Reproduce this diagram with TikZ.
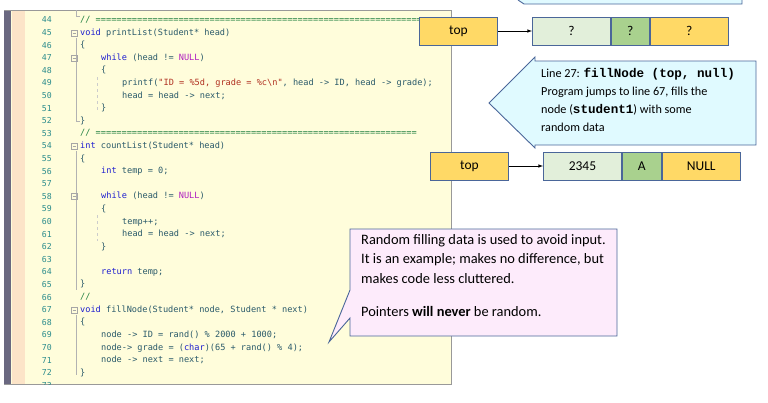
\documentclass[tikz,border=0pt]{standalone}
\usepackage{fontspec}
\setmainfont{Carlito}
\newfontfamily\codef{DejaVu Sans Mono}
\newfontfamily\courf{Liberation Mono}
\definecolor{panel}{HTML}{FFFDDB}
\definecolor{strip}{HTML}{FCE4C8}
\definecolor{darkstrip}{HTML}{6A6880}
\definecolor{lnum}{HTML}{2B8C8C}
\definecolor{kw}{HTML}{1F1FD0}
\definecolor{idc}{HTML}{2A5A6A}
\definecolor{nul}{HTML}{B020C0}
\definecolor{strc}{HTML}{B03020}
\definecolor{cmt}{HTML}{208040}
\definecolor{bord}{HTML}{4A6699}
\definecolor{cellA}{HTML}{E2EFDA}
\definecolor{cellB}{HTML}{A9D18E}
\definecolor{cellC}{HTML}{FFD966}
\definecolor{cyanb}{HTML}{E0FAFF}
\definecolor{pinkb}{HTML}{FDEBFB}
\tikzset{
  ln/.style={anchor=east,font=\codef\fontsize{8.2}{9}\selectfont,text=lnum,inner sep=0pt},
  cl/.style={anchor=west,font=\codef\fontsize{8.6}{9}\selectfont,text=idc,inner sep=0pt},
  cell/.style={draw=bord,line width=0.9pt,minimum height=28pt,inner sep=0pt,font=\fontsize{13.5}{15}\selectfont,anchor=west},
  ptr/.style={-latex,line width=0.6pt},
  callout/.style={draw=bord,line width=0.9pt},
  ctext/.style={anchor=north west,align=left,inner sep=0pt,font=\fontsize{14.4}{19.5}\selectfont},
  fold/.style={gray!70,line width=0.4pt},
}
\newcommand\kwd[1]{\textcolor{kw}{#1}}
\newcommand\nul[1]{\textcolor{nul}{#1}}
\begin{document}
\begin{tikzpicture}[x=1pt,y=-1pt]
\useasboundingbox (0,0) rectangle (768,402);
% code panel
\fill[panel] (4,10) rectangle (451,384);
\fill[strip] (12,10) rectangle (25,384);
\fill[darkstrip] (4,10) rectangle (11,384);
\draw[gray!80,line width=1pt] (4,10) -- (451,10) -- (451,384) -- (4,384);
\begin{scope}
\clip (4,10) rectangle (451,384);
\foreach \n [count=\i from 0] in {44,...,73}{
  \node[ln] (n\n) at (52,{20+12.6*\i}) {\n};
}
% guide lines
\draw[gray!60,line width=0.5pt] (76,10) -- (76,16) -- (80,16);
\draw[gray!60,line width=0.5pt] (76,38) -- (76,121) -- (80,121);
\draw[gray!40,dashed,line width=0.4pt] (97,77) -- (97,113);
\draw[gray!60,line width=0.5pt] (76,151) -- (76,290);
\draw[gray!40,dashed,line width=0.4pt] (97,215) -- (97,241);
\draw[gray!60,line width=0.5pt] (76,315) -- (76,375);
\foreach \y in {33,58,146,196,310}{\draw[fold] (71,\y-3) rectangle (77,\y+3); \draw[fold] (72.5,\y) -- (75.5,\y);}
% code
\node[cl,text=cmt] (c44) at (80,20) {// ======================================================================};
\node[cl] (c45) at (80,33) {\kwd{void} printList(Student* head)};
\node[cl] (c46) at (80,45) {\{};
\node[cl] (c47) at (101,58) {\kwd{while} (head != \nul{NULL})};
\node[cl] (c48) at (101,70) {\{};
\node[cl] (c49) at (122,83) {printf(\textcolor{strc}{"ID = \%5d, grade = \%c\textbackslash n"}, head -> ID, head -> grade);};
\node[cl] (c50) at (122,96) {head = head -> next;};
\node[cl] (c51) at (101,108) {\}};
\node[cl] (c52) at (80,121) {\}};
\node[cl,text=cmt] (c53) at (80,133) {// ==============================================================};
\node[cl] (c54) at (80,146) {\kwd{int} countList(Student* head)};
\node[cl] (c55) at (80,159) {\{};
\node[cl] (c56) at (101,171) {\kwd{int} temp = 0;};
\node[cl] (c58) at (101,196) {\kwd{while} (head != \nul{NULL})};
\node[cl] (c59) at (101,209) {\{};
\node[cl] (c60) at (122,222) {temp++;};
\node[cl] (c61) at (122,234) {head = head -> next;};
\node[cl] (c62) at (101,247) {\}};
\node[cl] (c64) at (101,272) {\kwd{return} temp;};
\node[cl] (c65) at (80,284) {\}};
\node[cl,text=cmt] (c66) at (80,297) {//};
\node[cl] (c67) at (80,310) {\kwd{void} fillNode(Student* node, Student * next)};
\node[cl] (c68) at (80,322) {\{};
\node[cl] (c69) at (101,335) {node -> ID = rand() \% 2000 + 1000;};
\node[cl] (c70) at (101,348) {node-> grade = (\kwd{char})(65 + rand() \% 4);};
\node[cl] (c71) at (101,360) {node -> next = next;};
\node[cl] (c72) at (80,373) {\}};
\end{scope}
% top partial callout
\fill[cyanb] (518,0) -- (524,4) -- (742,4) -- (742,0) -- cycle;
\draw[callout] (518,0) -- (524,4) -- (742,4) -- (742,0);
% first list
\node[cell,fill=cellC,minimum width=78pt] (top1) at (419,31) {top};
\node[cell,fill=cellA,minimum width=78pt] (a1) at (532,31) {?};
\node[cell,fill=cellB,minimum width=38pt] (b1) at (a1.east) {?};
\node[cell,fill=cellC,minimum width=78pt] (d1) at (b1.east) {?};
\draw[ptr] (top1.east) -- (a1.west);
% callout 2
\draw[callout,fill=cyanb] (489,103) -- (535,57) -- (535,61) -- (756,61) -- (756,145) -- (535,145) -- (535,148) -- cycle;
\node[ctext,font=\fontsize{12.2}{18}\selectfont] (t2) at (541,68) {Line 27: {\courf\bfseries\fontsize{12.6}{18}\selectfont fillNode (top, null)}\\Program jumps to line 67, fills the\\node ({\courf\bfseries\fontsize{12.6}{18}\selectfont student1}) with some\\random data};
% second list
\node[cell,fill=cellC,minimum width=78pt] (top2) at (430,166) {top};
\node[cell,fill=cellA,minimum width=78pt] (a2) at (543,166) {2345};
\node[cell,fill=cellB,minimum width=39pt] (b2) at (a2.east) {A};
\node[cell,fill=cellC,minimum width=78pt] (d2) at (b2.east) {NULL};
\draw[ptr] (top2.east) -- (a2.west);
% callout 3
\draw[callout,fill=pinkb] (350,229) -- (617,229) -- (617,336) -- (350,336) -- (350,318) -- (329,342) -- (350,290) -- cycle;
\node[ctext] (t3) at (361,234) {Random filling data is used to avoid input.\\It is an example; makes no difference, but\\makes code less cluttered.};
\node[ctext] (t4) at (361,306) {Pointers \textbf{will never} be random.};
\end{tikzpicture}
\end{document}
